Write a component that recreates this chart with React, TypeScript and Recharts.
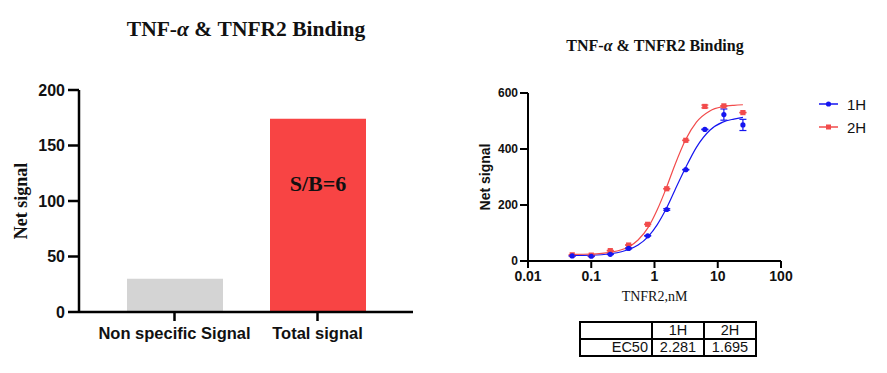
import React from 'react';
import {
  BarChart,
  Bar,
  XAxis,
  YAxis,
  Cell,
  LabelList,
  ComposedChart,
  Line,
  Scatter,
  ErrorBar,
  Label,
} from 'recharts';

// ---------- Left chart data ----------
const barCategories = ['Non specific Signal', 'Total signal'];
const barValues = [30, 174];
const barNotes = ['', 'S/B=6'];
const barColors = ['#d4d4d4', '#f84444'];
const barTicks = [0, 50, 100, 150, 200];

// ---------- Right chart data ----------
const concentrations = [0.05, 0.1, 0.2, 0.39, 0.78, 1.5625, 3.125, 6.25, 12.5, 25];
const h1Values = [18, 17, 24, 45, 90, 184, 326, 470, 523, 486];
const h1Errors = [1, 1, 1, 2, 1, 3, 1, 1, 20, 20];
const h2Values = [22, 21, 37, 57, 131, 258, 431, 552, 554, 530];
const h2Errors = [1, 1, 1, 1, 1, 1, 1, 5, 1, 1];

const fitX = [0.05, 0.1, 0.2, 0.3, 0.4, 0.55, 0.8, 1.1, 1.55, 2.1, 3.1, 4.6, 7.5, 12, 18, 25];
const fit1H = [20, 21, 26, 33, 42, 57, 88, 129, 189, 253, 333, 406, 467, 496, 507, 513];
const fit2H = [24, 25, 31, 40, 52, 75, 121, 182, 263, 343, 433, 496, 536, 551, 556, 558];

const seriesNames = ['1H', '2H'];
const seriesColors = ['#1515f0', '#f24b4b'];
const ec50Values = ['2.281', '1.695'];
const logTicks = [0.01, 0.1, 1, 10, 100];
const signalTicks = [0, 200, 400, 600];

const SERIF = "'Liberation Serif', 'Times New Roman', serif";
const SANS = "'Liberation Sans', Arial, sans-serif";

const barData = barCategories.map((name, i) => ({ name, value: barValues[i], note: barNotes[i] }));
const points1H = concentrations.map((x, i) => ({ x, y: h1Values[i], err: h1Errors[i] }));
const points2H = concentrations.map((x, i) => ({ x, y: h2Values[i], err: h2Errors[i] }));
const curve1H = fitX.map((x, i) => ({ x, y: fit1H[i] }));
const curve2H = fitX.map((x, i) => ({ x, y: fit2H[i] }));

const NoteLabel = (props: any) => {
  const { x, y, width, value } = props;
  if (!value) return null;
  return (
    <text
      x={Number(x) + Number(width) / 2}
      y={Number(y) + 72}
      textAnchor="middle"
      fontFamily={SERIF}
      fontWeight="bold"
      fontSize={22}
      fill="#111"
    >
      {value}
    </text>
  );
};

const CircleDot = (props: any) => {
  const { cx, cy } = props;
  if (cx == null || cy == null) return null;
  return <circle cx={cx} cy={cy} r={2.6} fill={seriesColors[0]} />;
};

const SquareDot = (props: any) => {
  const { cx, cy } = props;
  if (cx == null || cy == null) return null;
  return <rect x={cx - 2.6} y={cy - 2.6} width={5.2} height={5.2} fill={seriesColors[1]} />;
};

const cellStyle: React.CSSProperties = {
  border: '2px solid #000',
  padding: 0,
  lineHeight: '1',
  textAlign: 'center',
};

export default function App() {
  return (
    <div
      style={{
        position: 'absolute',
        left: 0,
        top: 0,
        width: 887,
        height: 373,
        background: '#fff',
        overflow: 'hidden',
      }}
    >
      {/* Left title */}
      <div
        style={{
          position: 'absolute',
          left: 0,
          width: 492,
          top: 19,
          textAlign: 'center',
          fontFamily: SERIF,
          fontWeight: 'bold',
          fontSize: 21.5,
          lineHeight: '1',
          color: '#111',
          whiteSpace: 'nowrap',
        }}
      >
        TNF-<i>α</i> &amp; TNFR2 Binding
      </div>

      <div style={{ position: 'absolute', left: 0, top: 0 }}>
        <BarChart
          width={440}
          height={373}
          data={barData}
          margin={{ top: 90, right: 27, bottom: 21, left: 0 }}
        >
          <XAxis
            dataKey="name"
            height={40}
            padding={{ left: 24, right: 24 }}
            interval={0}
            tickSize={9}
            tickMargin={6}
            axisLine={{ stroke: '#000', strokeWidth: 2.5 }}
            tickLine={{ stroke: '#000', strokeWidth: 2.5 }}
            tick={{ fontFamily: SANS, fontWeight: 'bold', fontSize: 16.5, fill: '#111' }}
          />
          <YAxis
            type="number"
            domain={[0, 200]}
            ticks={barTicks}
            width={79}
            tickSize={11}
            tickMargin={3}
            axisLine={{ stroke: '#000', strokeWidth: 2.5 }}
            tickLine={{ stroke: '#000', strokeWidth: 2.5 }}
            tick={{ fontFamily: SANS, fontWeight: 'bold', fontSize: 16, fill: '#111' }}
          >
            <Label
              value="Net signal"
              angle={-90}
              position="insideLeft"
              offset={21}
              fontFamily={SERIF}
              fontWeight="bold"
              fontSize={18}
              fill="#111"
              style={{
                textAnchor: 'middle',
                fontFamily: SERIF,
                fontWeight: 'bold',
                fontSize: 18,
                fill: '#111',
              }}
            />
          </YAxis>
          <Bar dataKey="value" barSize={96} isAnimationActive={false}>
            {barData.map((d, i) => (
              <Cell key={d.name} fill={barColors[i]} />
            ))}
            <LabelList dataKey="note" content={NoteLabel} />
          </Bar>
        </BarChart>
      </div>

      {/* Right title */}
      <div
        style={{
          position: 'absolute',
          left: 555,
          width: 200,
          top: 38,
          textAlign: 'center',
          fontFamily: SERIF,
          fontWeight: 'bold',
          fontSize: 16,
          lineHeight: '1',
          color: '#111',
          whiteSpace: 'nowrap',
        }}
      >
        TNF-<i>α</i> &amp; TNFR2 Binding
      </div>

      <div style={{ position: 'absolute', left: 440, top: 0 }}>
        <ComposedChart
          width={447}
          height={373}
          margin={{ top: 93, right: 106, bottom: 72, left: 0 }}
        >
          <XAxis
            type="number"
            dataKey="x"
            scale="log"
            domain={[0.01, 100]}
            ticks={logTicks}
            allowDataOverflow
            height={40}
            tickSize={7}
            tickMargin={3}
            axisLine={{ stroke: '#000', strokeWidth: 2 }}
            tickLine={{ stroke: '#000', strokeWidth: 2 }}
            tick={{ fontFamily: SANS, fontWeight: 'bold', fontSize: 14, fill: '#111' }}
            tickFormatter={(v: number) => String(v)}
          >
            <Label
              value="TNFR2,nM"
              position="insideBottom"
              offset={0}
              fontFamily={SERIF}
              fontSize={14}
              fill="#111"
              style={{ fontFamily: SERIF, fontSize: 14, fill: '#111' }}
            />
          </XAxis>
          <YAxis
            type="number"
            dataKey="y"
            domain={[0, 600]}
            ticks={signalTicks}
            width={88}
            tickSize={8}
            tickMargin={2}
            axisLine={{ stroke: '#000', strokeWidth: 2 }}
            tickLine={{ stroke: '#000', strokeWidth: 2 }}
            tick={{ fontFamily: SANS, fontWeight: 'bold', fontSize: 12, fill: '#111' }}
          >
            <Label
              value="Net signal"
              angle={-90}
              position="insideLeft"
              offset={45}
              fontFamily={SANS}
              fontWeight="bold"
              fontSize={14}
              fill="#111"
              style={{
                textAnchor: 'middle',
                fontFamily: SANS,
                fontWeight: 'bold',
                fontSize: 14,
                fill: '#111',
              }}
            />
          </YAxis>
          <Line
            data={curve1H}
            dataKey="y"
            type="monotone"
            stroke={seriesColors[0]}
            strokeWidth={1.2}
            dot={false}
            activeDot={false}
            isAnimationActive={false}
          />
          <Line
            data={curve2H}
            dataKey="y"
            type="monotone"
            stroke={seriesColors[1]}
            strokeWidth={1.2}
            dot={false}
            activeDot={false}
            isAnimationActive={false}
          />
          <Scatter
            name={seriesNames[1]}
            data={points2H}
            dataKey="y"
            fill={seriesColors[1]}
            shape={SquareDot}
            isAnimationActive={false}
          >
            <ErrorBar dataKey="err" direction="y" width={3.5} stroke={seriesColors[1]} strokeWidth={1.2} />
          </Scatter>
          <Scatter
            name={seriesNames[0]}
            data={points1H}
            dataKey="y"
            fill={seriesColors[0]}
            shape={CircleDot}
            isAnimationActive={false}
          >
            <ErrorBar dataKey="err" direction="y" width={3.5} stroke={seriesColors[0]} strokeWidth={1.2} />
          </Scatter>
        </ComposedChart>
      </div>

      {/* Legend */}
      {seriesNames.map((name, i) => (
        <div
          key={name}
          style={{ position: 'absolute', left: 817, top: 96 + i * 23, height: 16, display: 'flex', alignItems: 'center' }}
        >
          <svg width={24} height={16}>
            <line x1={2} y1={8} x2={21} y2={8} stroke={seriesColors[i]} strokeWidth={1.5} />
            {i === 0 ? (
              <circle cx={11.5} cy={8} r={2.6} fill={seriesColors[i]} />
            ) : (
              <rect x={9} y={5.5} width={5} height={5} fill={seriesColors[i]} />
            )}
          </svg>
          <span
            style={{ marginLeft: 6, fontFamily: SANS, fontSize: 15, lineHeight: '1', color: '#111' }}
          >
            {name}
          </span>
        </div>
      ))}

      {/* EC50 table */}
      <table
        style={{
          position: 'absolute',
          left: 579,
          top: 321,
          width: 176,
          borderCollapse: 'collapse',
          tableLayout: 'fixed',
          fontFamily: SANS,
          fontSize: 14.5,
          color: '#111',
        }}
      >
        <colgroup>
          <col style={{ width: 72 }} />
          <col style={{ width: 52 }} />
          <col style={{ width: 52 }} />
        </colgroup>
        <tbody>
          <tr style={{ height: 17 }}>
            <td style={cellStyle}></td>
            {seriesNames.map((n) => (
              <td key={n} style={cellStyle}>
                {n}
              </td>
            ))}
          </tr>
          <tr style={{ height: 16 }}>
            <td style={{ ...cellStyle, textAlign: 'right', paddingRight: 3 }}>EC50</td>
            {ec50Values.map((v) => (
              <td key={v} style={cellStyle}>
                {v}
              </td>
            ))}
          </tr>
        </tbody>
      </table>
    </div>
  );
}
